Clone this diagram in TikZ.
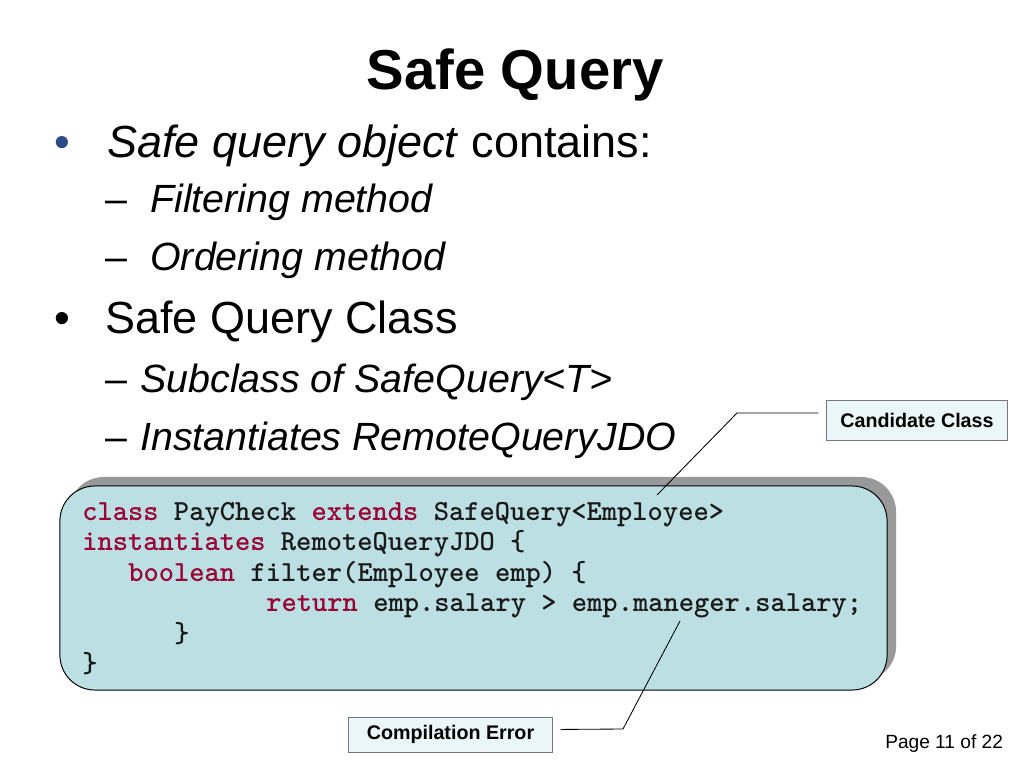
\documentclass[tikz,border=0pt]{standalone}
\usepackage{fontspec}
\setmainfont{Liberation Sans}
\usepackage{xcolor}
\usepackage{tikz}
\usetikzlibrary{shadows}
\definecolor{codebg}{RGB}{187,223,227}
\definecolor{shadowgray}{RGB}{153,153,153}
\definecolor{labelbg}{RGB}{234,246,247}
\definecolor{labelline}{RGB}{120,120,120}
\definecolor{bulletblue}{RGB}{43,76,133}
\definecolor{keyword}{RGB}{153,0,51}
\definecolor{codetext}{RGB}{25,25,25}
\newcommand{\kw}[1]{\textcolor{keyword}{#1}}

\begin{document}
\begin{tikzpicture}[x=0.025cm, y=-0.025cm,
    txt/.style={anchor=base west, inner sep=0pt},
    lone/.style={txt, font=\fontsize{32}{38}\selectfont},
    ltwo/.style={txt, font=\fontsize{28}{34}\selectfont\itshape},
    endash/.style={txt, font=\fontsize{28}{34}\selectfont},
    code/.style={txt, font=\fontsize{20.7}{24}\selectfont\ttfamily\bfseries, text=codetext},
    label/.style={rectangle, draw=labelline, fill=labelbg, line width=0.7pt, font=\fontsize{14}{17}\selectfont\bfseries, align=center},
    callout/.style={draw, line width=0.6pt}
]
\useasboundingbox (0,0) rectangle (1024,768);

% title and bullets
\node[anchor=base, inner sep=0pt, font=\fontsize{40}{48}\selectfont\bfseries] (title) at (515,90) {Safe Query};

\node[lone, text=bulletblue] (b1) at (54,157) {•};
\node[lone] (t1) at (107,157) {\textit{Safe query object} contains:};
\node[endash] (d1) at (105,212) {–};
\node[ltwo] (t2) at (150,212) {Filtering method};
\node[endash] (d2) at (105,270) {–};
\node[ltwo] (t3) at (150,270) {Ordering method};

\node[lone] (b2) at (54,333) {•};
\node[lone] (t4) at (105,333) {Safe Query Class};
\node[endash] (d3) at (105,392) {–};
\node[ltwo] (t5) at (140,392) {Subclass of SafeQuery<T>};
\node[endash] (d4) at (105,450) {–};
\node[ltwo] (t6) at (140,450) {Instantiates RemoteQueryJDO};

% code box
\node[draw, line width=0.7pt, fill=codebg, rounded corners=0.875cm,
      minimum width=20.675cm, minimum height=5.1cm, inner sep=0pt,
      drop shadow={shadow xshift=0.225cm, shadow yshift=0.225cm, fill=shadowgray, opacity=1}]
      (codebox) at (473.5,588) {};

\node[code] (c1) at (82,520) {\kw{class} PayCheck \kw{extends} SafeQuery<Employee>};
\node[code] (c2) at (82,550) {\kw{instantiates} RemoteQueryJDO \{};
\node[code] (c3) at (128,581) {\kw{boolean} filter(Employee emp) \{};
\node[code] (c4) at (266,611) {\kw{return} emp.salary > emp.maneger.salary;};
\node[code] (c5) at (174,642) {\}};
\node[code] (c6) at (82,672) {\}};

% callouts
\node[label, minimum width=4.5cm, minimum height=1cm] (cand) at (917,420) {Candidate Class};
\node[label, minimum width=5.075cm, minimum height=0.875cm] (comp) at (450.5,734.5) {Compilation Error};

\coordinate (candbend) at (737,413);
\coordinate (candtip) at (657,495);
\coordinate (compbend) at (623,729);
\coordinate (comptip) at (680,621);

\draw[callout, shorten <=0.2cm] ([yshift=0.175cm]cand.west) -- (candbend) -- (candtip);
\draw[callout, shorten <=0.2cm] ([yshift=0.125cm]comp.east) -- (compbend) -- (comptip);

\node[txt, font=\fontsize{13.6}{16}\selectfont] (page) at (885,748) {Page 11 of 22};

\end{tikzpicture}
\end{document}
